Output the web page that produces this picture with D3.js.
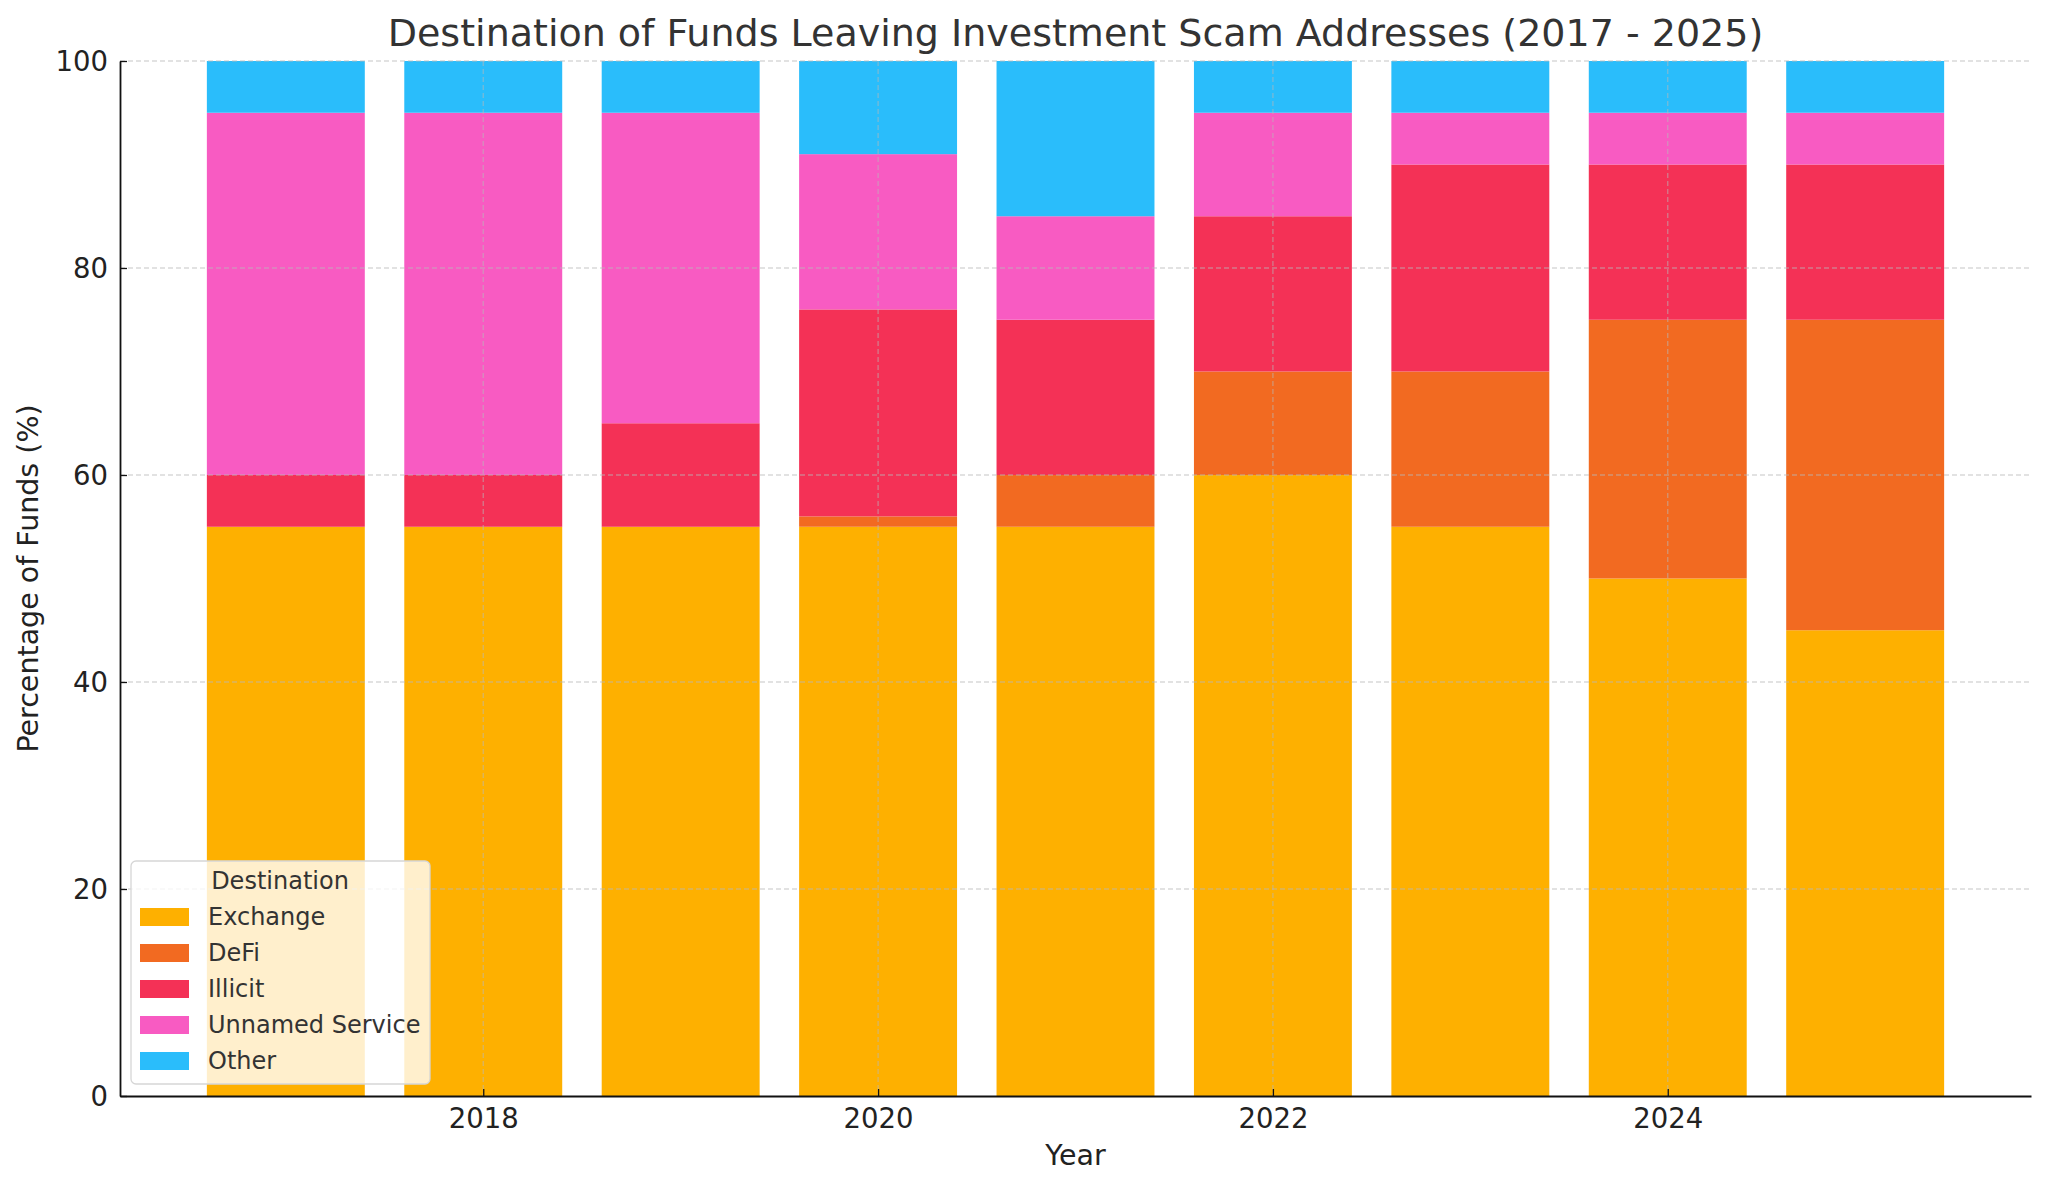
<!DOCTYPE html>
<html>
<head>
<meta charset="utf-8">
<script src="https://cdn.jsdelivr.net/npm/d3@7/dist/d3.min.js"></script>
<style>
  body { margin: 0; background: #fff; }
  svg text { font-family: "DejaVu Sans", sans-serif; }
</style>
</head>
<body>
<div id="chart"></div>
<script>
// values (percent of funds per year)
var years = [2017, 2018, 2019, 2020, 2021, 2022, 2023, 2024, 2025];
var destinations = ["Exchange", "DeFi", "Illicit", "Unnamed Service", "Other"];
var exchange = [55, 55, 55, 55, 55, 60, 55, 50, 45];
var defi     = [0, 0, 0, 1, 5, 10, 15, 25, 30];
var illicit  = [5, 5, 10, 20, 15, 15, 20, 15, 15];
var unnamed  = [35, 35, 30, 15, 10, 10, 5, 5, 5];
var other    = [5, 5, 5, 9, 15, 5, 5, 5, 5];
var xTicks = [2018, 2020, 2022, 2024];
var yTicks = [0, 20, 40, 60, 80, 100];
var colors = ["#feb000", "#f26a21", "#f43156", "#f85bc2", "#2abdfb"];

var w = 2048, h = 1188
    , marginTop = 61, marginBottom = 92, marginLeft = 120, marginRight = 17
    , contentsWidth = w - marginLeft - marginRight, contentsHeight = h - marginTop - marginBottom;

var series = [exchange, defi, illicit, unnamed, other];
var table = years.map(function(y, i) {
  var row = {year: y};
  destinations.forEach(function(k, j) { row[k] = series[j][i]; });
  return row;
});
var stacked = d3.stack().keys(destinations)(table);

var svg = d3.select("div#chart")
    .append("svg")
    .attr("width", w)
    .attr("height", h);

var g = svg.append("g")
    .attr("transform", "translate(" + marginLeft + "," + marginTop + ")");

// matplotlib-like 5% margin around the bars (bar width 0.8)
var span = (years[years.length - 1] + 0.4) - (years[0] - 0.4);
var xScale = d3.scaleLinear()
    .domain([years[0] - 0.4 - span * 0.05, years[years.length - 1] + 0.4 + span * 0.05])
    .range([0, contentsWidth]);
var yScale = d3.scaleLinear().domain([0, 100]).range([contentsHeight, 0]);
var color = d3.scaleOrdinal().domain(destinations).range(colors);

// bars
g.append("g")
    .attr("class", "bars")
    .selectAll("g")
    .data(stacked)
    .enter()
    .append("g")
    .attr("fill", function(d) { return color(d.key); })
    .selectAll("rect")
    .data(function(d) { return d; })
    .enter()
    .append("rect")
    .attr("x", function(d) { return xScale(d.data.year - 0.4); })
    .attr("width", function(d) { return xScale(d.data.year + 0.4) - xScale(d.data.year - 0.4); })
    .attr("y", function(d) { return yScale(d[1]); })
    .attr("height", function(d) { return yScale(d[0]) - yScale(d[1]); });

// grid on top of bars
var grid = g.append("g").attr("class", "grid")
    .attr("stroke", "#b8b8b8")
    .attr("stroke-opacity", 0.55)
    .attr("stroke-width", 1.3)
    .attr("stroke-dasharray", "5,3");
grid.selectAll("line.h")
    .data(yTicks.slice(1))
    .enter()
    .append("line")
    .attr("class", "h")
    .attr("x1", 0).attr("x2", contentsWidth)
    .attr("y1", function(d) { return yScale(d); })
    .attr("y2", function(d) { return yScale(d); });
grid.selectAll("line.v")
    .data(xTicks)
    .enter()
    .append("line")
    .attr("class", "v")
    .attr("y1", 0).attr("y2", contentsHeight)
    .attr("x1", function(d) { return xScale(d); })
    .attr("x2", function(d) { return xScale(d); });

// axes
var xAxis = d3.axisBottom(xScale).tickValues(xTicks).tickFormat(d3.format("d"))
    .tickSizeInner(-7).tickSizeOuter(0).tickPadding(12);
var yAxis = d3.axisLeft(yScale).tickValues(yTicks)
    .tickSizeInner(-7).tickSizeOuter(0).tickPadding(12);

var gx = g.append("g")
    .attr("class", "x axis")
    .attr("transform", "translate(0," + contentsHeight + ")")
    .call(xAxis);
var gy = g.append("g")
    .attr("class", "y axis")
    .call(yAxis);

[gx, gy].forEach(function(a) {
  a.select(".domain").attr("stroke", "#111").attr("stroke-width", 1.8);
  a.selectAll(".tick line").attr("stroke", "#111").attr("stroke-width", 1.3);
  a.selectAll(".tick text")
      .attr("fill", "#222")
      .style("font-size", "27.5px");
});
gy.selectAll(".tick text").attr("dy", "0.36em");

// titles
svg.append("text")
    .attr("x", marginLeft + contentsWidth / 2)
    .attr("y", 46)
    .attr("text-anchor", "middle")
    .attr("fill", "#333")
    .style("font-size", "38px")
    .text("Destination of Funds Leaving Investment Scam Addresses (2017 - 2025)");

svg.append("text")
    .attr("x", marginLeft + contentsWidth / 2)
    .attr("y", 1165)
    .attr("text-anchor", "middle")
    .attr("fill", "#222")
    .style("font-size", "28.5px")
    .text("Year");

svg.append("text")
    .attr("transform", "translate(38," + (marginTop + contentsHeight / 2) + ") rotate(-90)")
    .attr("text-anchor", "middle")
    .attr("fill", "#222")
    .style("font-size", "28.5px")
    .text("Percentage of Funds (%)");

// legend
var legend = svg.append("g")
    .attr("class", "legend")
    .attr("transform", "translate(131,861)");
legend.append("rect")
    .attr("width", 299)
    .attr("height", 223)
    .attr("rx", 5)
    .attr("fill", "#fff")
    .attr("fill-opacity", 0.8)
    .attr("stroke", "#d6d6d6")
    .attr("stroke-width", 1.3);
legend.append("text")
    .attr("x", 149)
    .attr("y", 28)
    .attr("text-anchor", "middle")
    .attr("fill", "#333")
    .style("font-size", "24px")
    .text("Destination");
var item = legend.selectAll("g.item")
    .data(destinations)
    .enter()
    .append("g")
    .attr("class", "item")
    .attr("transform", function(d, i) { return "translate(9," + (47 + i * 36) + ")"; });
item.append("rect")
    .attr("width", 49)
    .attr("height", 18)
    .attr("fill", function(d) { return color(d); });
item.append("text")
    .attr("x", 68)
    .attr("y", 9)
    .attr("dy", "0.35em")
    .attr("fill", "#333")
    .style("font-size", "24px")
    .text(function(d) { return d; });
</script>
</body>
</html>
